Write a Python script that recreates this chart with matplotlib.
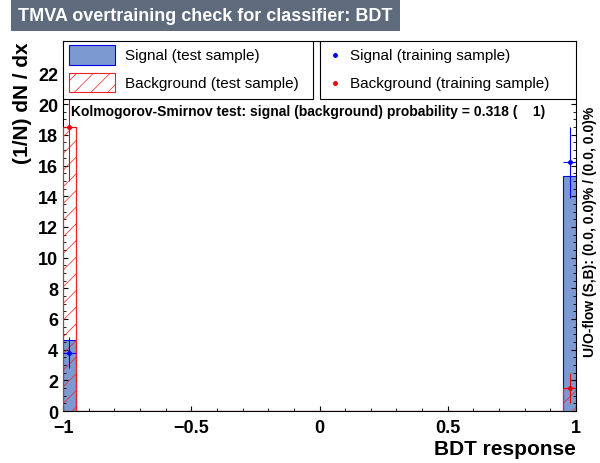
import matplotlib
matplotlib.use("Agg")
import matplotlib.pyplot as plt
import numpy as np
from matplotlib.patches import Rectangle

plt.rcParams['font.family'] = ['Liberation Sans', 'DejaVu Sans']
plt.rcParams['hatch.linewidth'] = 0.5

edges = np.linspace(-1, 1, 41)
sig_test = np.zeros(40); sig_test[0] = 4.6; sig_test[-1] = 15.3
bkg_test = np.zeros(40); bkg_test[0] = 18.5; bkg_test[-1] = 1.5
train_x = [-0.975, 0.975]
sig_train = [3.8, 16.2]
sig_train_err = [1.0, 2.3]
bkg_train = [18.5, 1.5]
bkg_train_err = [3.5, 1.0]

fig = plt.figure(figsize=(6, 4.64), dpi=100)
ax = fig.add_axes([0.105, 0.112, 0.855, 0.797])
ax.stairs(sig_test, edges, fill=True, color="#7d99d1", zorder=1)
ax.stairs(sig_test, edges, color="#0000ee", lw=0.8, baseline=None, zorder=2)
ax.stairs(bkg_test, edges, fill=True, facecolor="none", hatch="//", edgecolor="#ee2222", lw=0.8, zorder=3)
ax.stairs(bkg_test, edges, color="#ee2222", lw=0.8, baseline=None, zorder=3)
ax.errorbar(train_x, sig_train, yerr=sig_train_err, xerr=0.025, fmt="o", ms=2.5,
            color="#0000ee", lw=0.8, capsize=0, zorder=4)
ax.errorbar(train_x, bkg_train, yerr=bkg_train_err, xerr=0.025, fmt="o", ms=2.5,
            color="#ee0000", lw=0.8, capsize=0, zorder=4)
ax.set_xlim(-1, 1)
ax.set_ylim(0, 24.1)
ax.set_xticks([-1, -0.5, 0, 0.5, 1])
ax.set_xticklabels(["\u22121", "\u22120.5", "0", "0.5", "1"])
ax.set_yticks(range(0, 24, 2))
ax.minorticks_on()
ax.tick_params(which="both", direction="in", top=True, right=True, labelsize=13)
ax.tick_params(axis="x", pad=6)
for t in ax.get_xticklabels() + ax.get_yticklabels():
    t.set_fontweight("bold")
ax.set_xlabel("BDT response", fontsize=15, fontweight="bold", loc="right", labelpad=2)
ax.set_ylabel("(1/N) dN / dx", fontsize=15, fontweight="bold", loc="top")

# legend boxes
ax.add_patch(Rectangle((0.0, 0.843), 0.487, 0.157, transform=ax.transAxes,
                       facecolor="white", edgecolor="k", lw=0.8, zorder=5))
ax.add_patch(Rectangle((0.5, 0.843), 0.5, 0.157, transform=ax.transAxes,
                       facecolor="white", edgecolor="k", lw=0.8, zorder=5))
ax.add_patch(Rectangle((0.012, 0.937), 0.09, 0.052, transform=ax.transAxes,
                       facecolor="#7d99d1", edgecolor="#0000ee", lw=0.8, zorder=6))
ax.add_patch(Rectangle((0.012, 0.862), 0.09, 0.052, transform=ax.transAxes,
                       facecolor="white", edgecolor="#ee2222", hatch="//", lw=0.8, zorder=6))
ax.text(0.12, 0.963, "Signal (test sample)", transform=ax.transAxes, fontsize=11, va="center", zorder=7)
ax.text(0.12, 0.888, "Background (test sample)", transform=ax.transAxes, fontsize=11, va="center", zorder=7)
ax.plot([0.53], [0.963], "o", ms=2.5, color="#0000ee", transform=ax.transAxes, zorder=7)
ax.plot([0.53], [0.888], "o", ms=2.5, color="#ee0000", transform=ax.transAxes, zorder=7)
ax.text(0.56, 0.963, "Signal (training sample)", transform=ax.transAxes, fontsize=11, va="center", zorder=7)
ax.text(0.56, 0.888, "Background (training sample)", transform=ax.transAxes, fontsize=11, va="center", zorder=7)
ax.text(0.015, 0.80, "Kolmogorov-Smirnov test: signal (background) probability = 0.318 (    1)",
        transform=ax.transAxes, fontsize=10, fontweight="bold", zorder=7)
fig.text(0.983, 0.50, "U/O-flow (S,B): (0.0, 0.0)% / (0.0, 0.0)%", rotation=90,
         fontsize=10, fontweight="bold", va="center", ha="center")
fig.text(0.03, 0.965, "TMVA overtraining check for classifier: BDT", fontsize=13,
         fontweight="bold", color="white", va="center",
         bbox=dict(boxstyle="square,pad=0.4", facecolor="#5d6b7d", edgecolor="none"))
fig.savefig("out.png")
